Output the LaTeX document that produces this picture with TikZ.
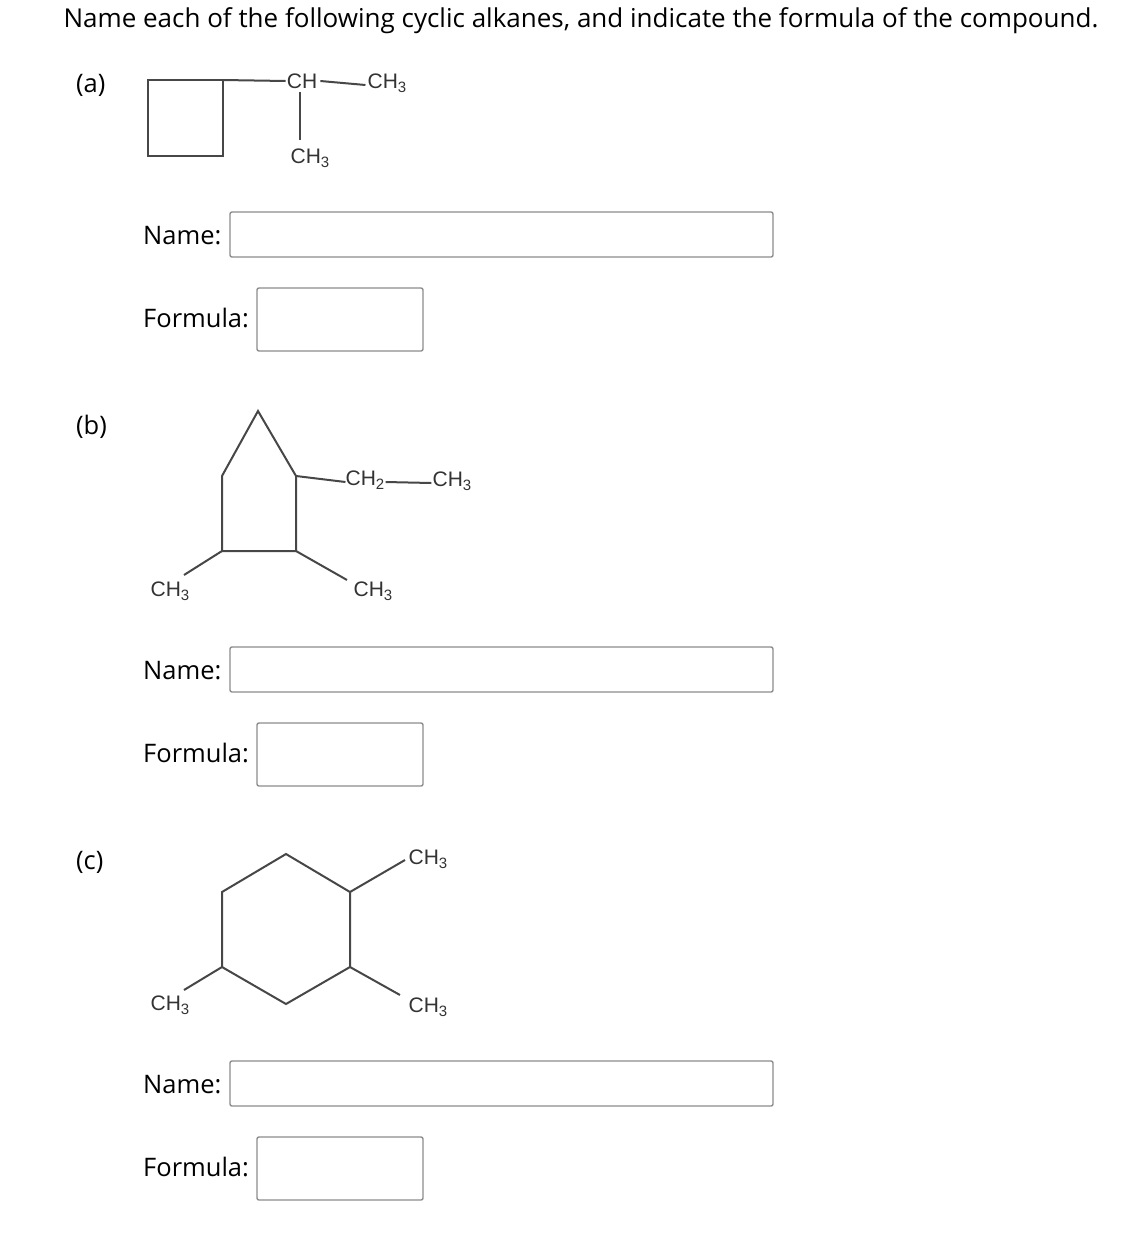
\documentclass[tikz,border=0pt]{standalone}
\usepackage{fontspec}
\setmainfont{Open Sans}
\newfontfamily\chem{Liberation Sans}
\newcommand{\sbs}[1]{\raisebox{-4pt}{\fontsize{15}{15}\selectfont #1}}
\begin{document}
\begin{tikzpicture}[x=1pt,y=-1pt,
  bond/.style={draw=black!72,line width=2pt},
  ch/.style={font=\chem\fontsize{21}{21}\selectfont,text=black!80,inner sep=0pt},
  lbl/.style={font=\fontsize{25.5}{27}\selectfont,anchor=west,inner sep=0pt},
  ans/.style={draw=black!45,line width=1.4pt,rounded corners=2pt}]
\useasboundingbox (0,0) rectangle (1132,1256);
\node[anchor=center,font=\fontsize{26}{28}\selectfont,inner sep=0pt] (title) at (581,21) {Name each of the following cyclic alkanes, and indicate the formula of the compound.};
\node[lbl] (la) at (76,85) {(a)};
\node[lbl] (lb) at (76,427) {(b)};
\node[lbl] (lc) at (76,862) {(c)};
% (a)
\draw[bond] (148,80) rectangle (223,156);
\node[ch] (a1) at (302,81) {CH};
\node[ch] (a2) at (387,83) {CH\sbs{3}};
\node[ch] (a3) at (310,158) {CH\sbs{3}};
\coordinate (ar) at (223,80);
\draw[bond] (ar) -- ([xshift=-1pt]a1.west);
\draw[bond] ([xshift=3pt]a1.east) -- ([xshift=-2pt,yshift=-2pt]a2.west);
\draw[bond] (300,92) -- (300,140);
% (b)
\coordinate (b1) at (258,411);
\coordinate (b2) at (296,476);
\coordinate (b3) at (296,551);
\coordinate (b4) at (222,551);
\coordinate (b5) at (222,476);
\draw[bond] (b1)--(b2)--(b3)--(b4)--(b5)--cycle;
\node[ch] (bc2) at (365,480) {CH\sbs{2}};
\node[ch] (bc3) at (452,481) {CH\sbs{3}};
\node[ch] (bm1) at (170,591) {CH\sbs{3}};
\node[ch] (bm2) at (373,591) {CH\sbs{3}};
\draw[bond] (b2) -- ([yshift=-2pt]bc2.west);
\draw[bond] ([xshift=1pt,yshift=-2pt]bc2.east) -- ([xshift=-1pt,yshift=-2pt]bc3.west);
\draw[bond] (b4) -- (184,575);
\draw[bond] (b3) -- (347,580);
% (c)
\coordinate (c1) at (286,854);
\coordinate (c2) at (350,892);
\coordinate (c3) at (350,967);
\coordinate (c4) at (286,1004);
\coordinate (c5) at (222,967);
\coordinate (c6) at (222,892);
\draw[bond] (c1)--(c2)--(c3)--(c4)--(c5)--(c6)--cycle;
\node[ch] (cm1) at (428,859) {CH\sbs{3}};
\node[ch] (cm2) at (428,1007) {CH\sbs{3}};
\node[ch] (cm3) at (170,1005) {CH\sbs{3}};
\draw[bond] (c2) -- (405,860);
\draw[bond] (c3) -- (400,995);
\draw[bond] (c5) -- (184,990);
% boxes
\foreach \n/\y/\f in {a/0,b/435,c/849}{
  \node[lbl] (name\n) at (143,236+\y) {Name:};
  \node[lbl] (form\n) at (143,318+\y) {Formula:};
  \draw[ans] (230,212+\y) rectangle (773,257+\y);
  \draw[ans] (257,288+\y) rectangle (423,351+\y);
}
\end{tikzpicture}
\end{document}
